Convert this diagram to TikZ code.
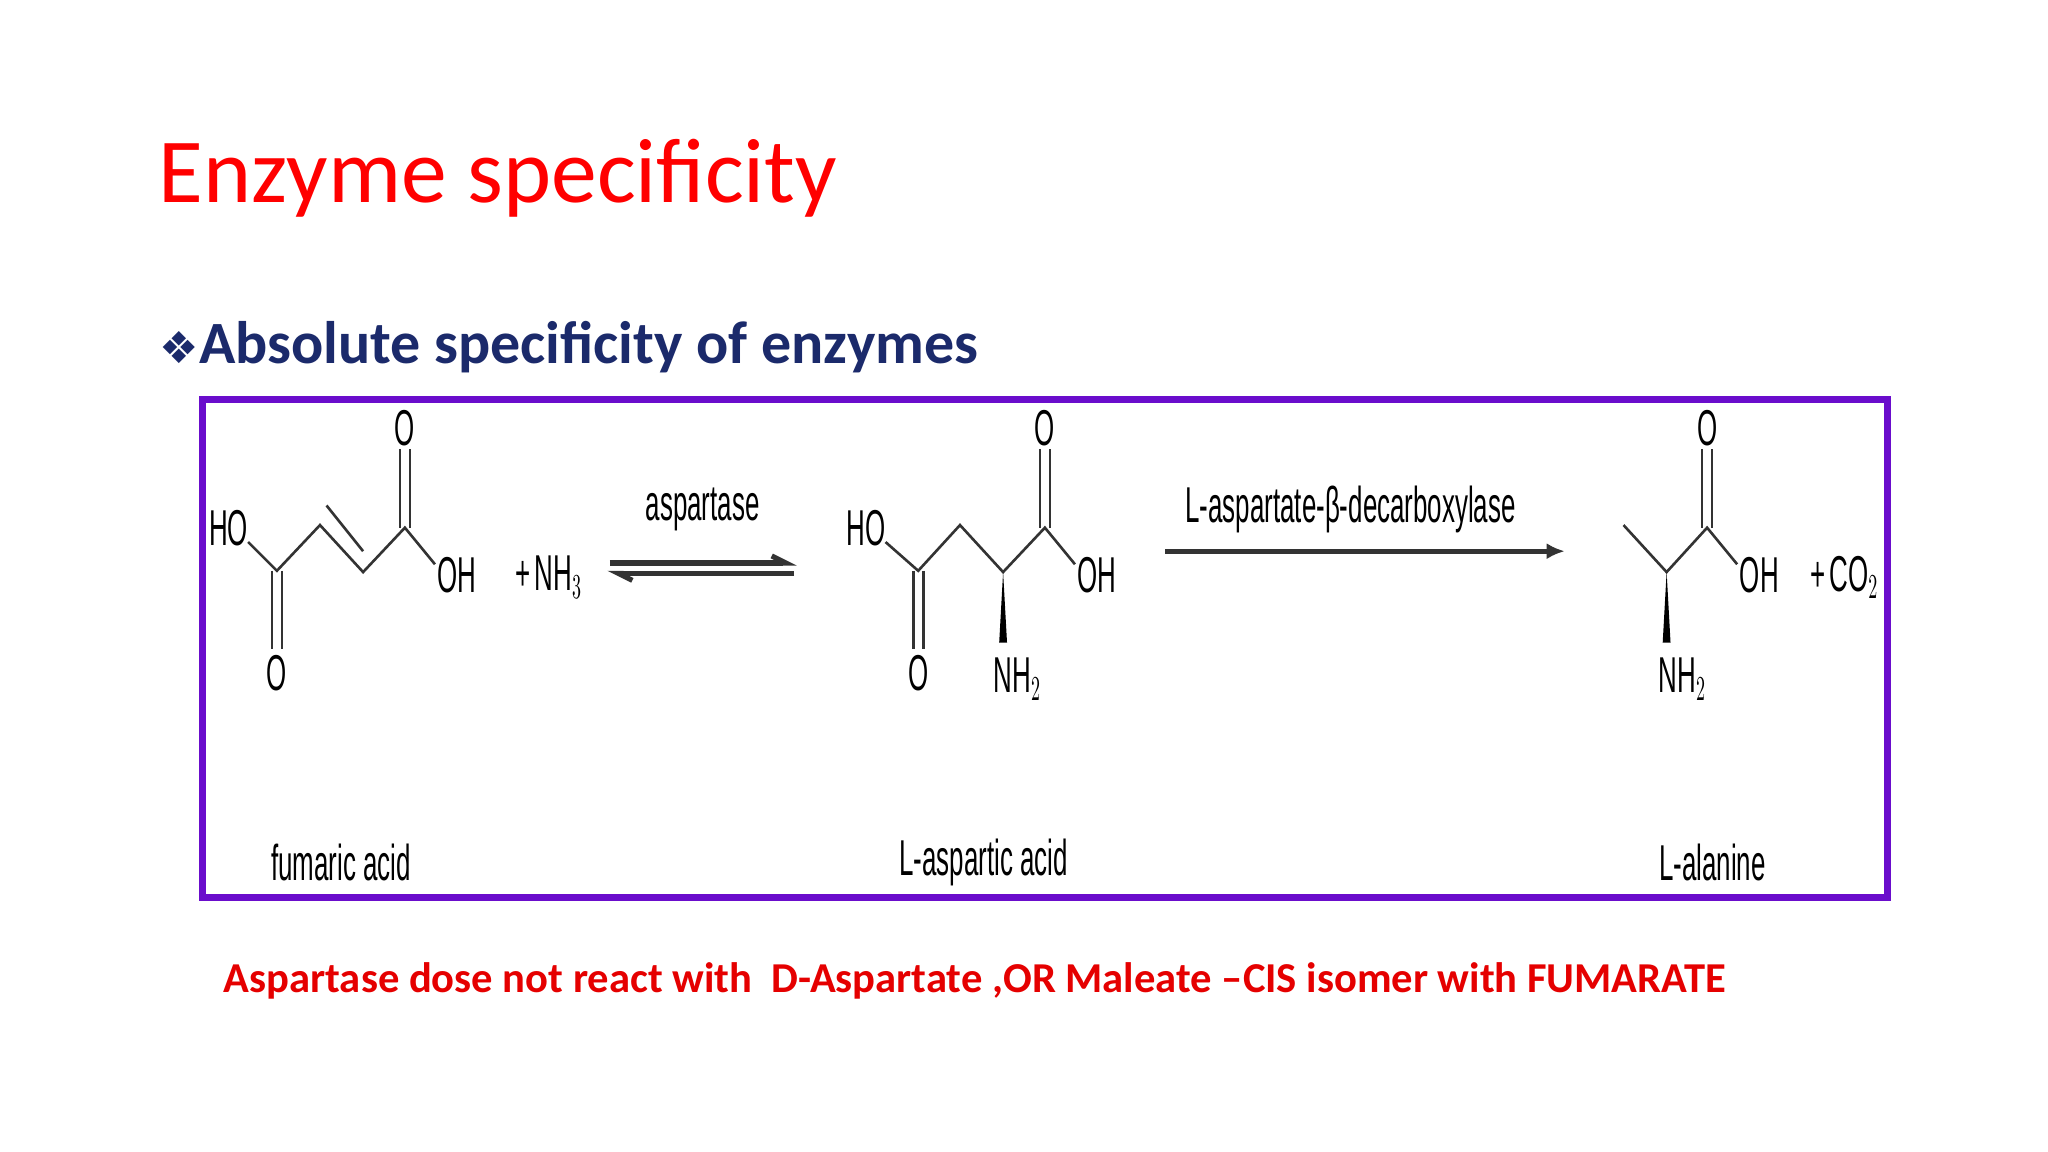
\documentclass[tikz,border=0pt]{standalone}
\usepackage{fontspec}
\setmainfont{Carlito}
\newfontfamily\chemfont{Liberation Sans}
\newfontfamily\symfont{DejaVu Sans}
\usetikzlibrary{arrows.meta}
\definecolor{boxpurple}{HTML}{6A0DCC}
\definecolor{navy}{HTML}{1B2A6B}
\newcommand{\chm}[1]{\scalebox{0.9}[1.75]{\chemfont\fontsize{14.4pt}{15pt}\selectfont #1}}
\tikzset{
  ch/.style={inner sep=0pt},
  bond/.style={line width=1.3pt,black!80},
  thickarrow/.style={line width=2.6pt,black!80},
}
\begin{document}
\begin{tikzpicture}[x=0.6531pt,y=-0.6531pt]
\useasboundingbox (0,0) rectangle (1568,882);
\fill[white] (0,0) rectangle (1568,882);
% title
\node[anchor=base west,inner sep=0pt,text=red,font=\fontsize{45.8pt}{55pt}\selectfont] (title) at (121,155) {Enzyme specificity};
\node[anchor=base west,inner sep=0pt,text=navy,font=\fontsize{30pt}{35pt}\selectfont\bfseries] (sub) at (122,278) {{\symfont\fontsize{22pt}{26pt}\selectfont ❖}Absolute specificity of enzymes};
% box
\draw[boxpurple,line width=3.6pt] (155,306) rectangle (1445,687);
% fumaric acid
\node[ch] (f1) at (175,404) {\chm{HO}};
\node[ch] (f2) at (310,328) {\chm{O}};
\node[ch] (f3) at (350,440) {\chm{OH}};
\node[ch] (f4) at (212,515) {\chm{O}};
\node[ch] (nh3) at (420,442) {\chm{+\,NH$_3$}};
\coordinate (fa) at (190,415); \coordinate (fb) at (212,437); \coordinate (fc) at (245,402);
\coordinate (fd) at (278,438); \coordinate (fe) at (310,404); \coordinate (ff) at (333,432);
\draw[bond] (fa)--(fb)--(fc)--(fd)--(fe)--(ff);
\draw[bond] (250,387)--(278,422);
\draw[bond] ([xshift=-2.5]fe)--++(0,-60) ([xshift=2.5]fe)--++(0,-60);
\draw[bond] ([xshift=-2.5]fb)--++(0,60) ([xshift=2.5]fb)--++(0,60);
% equilibrium
\coordinate (e1) at (467,431); \coordinate (e2) at (610,431);
\coordinate (e3) at (608,439); \coordinate (e4) at (465,439);
\draw[thickarrow,-{Straight Barb[left,length=7pt,width=7pt]}] (e1)--(e2);
\draw[thickarrow,-{Straight Barb[left,length=7pt,width=7pt]}] (e3)--(e4);
\node[ch] (asp) at (538,390) {\chm{aspartase}};
% L-aspartic acid
\node[ch] (a1) at (663,404) {\chm{HO}};
\node[ch] (a2) at (800,328) {\chm{O}};
\node[ch] (a3) at (840,440) {\chm{OH}};
\node[ch] (a4) at (703,515) {\chm{O}};
\node[ch] (a5) at (779,520) {\chm{NH$_2$}};
\coordinate (aa) at (678,415); \coordinate (ab) at (703,437); \coordinate (ac) at (735,402);
\coordinate (ad) at (768,438); \coordinate (ae) at (800,404); \coordinate (af) at (823,432);
\draw[bond] (aa)--(ab)--(ac)--(ad)--(ae)--(af);
\draw[bond] ([xshift=-2.5]ae)--++(0,-60) ([xshift=2.5]ae)--++(0,-60);
\draw[bond] ([xshift=-2.5]ab)--++(0,60) ([xshift=2.5]ab)--++(0,60);
\fill[black] (ad) -- (765,492) -- (771,492) -- cycle;
% decarboxylase arrow
\coordinate (d1) at (892,422); \coordinate (d2) at (1198,422);
\draw[thickarrow,-{Latex[length=9pt,width=8pt]}] (d1)--(d2);
\node[ch] (dec) at (1034,390) {\chm{L-aspartate-β-decarboxylase}};
% L-alanine
\node[ch] (l2) at (1307,328) {\chm{O}};
\node[ch] (l3) at (1347,440) {\chm{OH}};
\node[ch] (co2) at (1412,442) {\chm{+\,CO$_2$}};
\node[ch] (l5) at (1288,520) {\chm{NH$_2$}};
\coordinate (la) at (1243,402); \coordinate (lb) at (1276,438); \coordinate (lc) at (1307,404); \coordinate (ld) at (1330,432);
\draw[bond] (la)--(lb)--(lc)--(ld);
\draw[bond] ([xshift=-2.5]lc)--++(0,-60) ([xshift=2.5]lc)--++(0,-60);
\fill[black] (lb) -- (1273,492) -- (1279,492) -- cycle;
% names
\node[ch] (n1) at (261,660) {\chm{fumaric acid}};
\node[ch] (n2) at (753,660) {\chm{L-aspartic acid}};
\node[ch] (n3) at (1311,660) {\chm{L-alanine}};
% note
\node[anchor=base west,inner sep=0pt,text=red!90!black,font=\fontsize{21.3pt}{25pt}\selectfont\bfseries] (note) at (171,760) {Aspartase dose not react with\ \ D-Aspartate ,OR Maleate –CIS isomer with FUMARATE};
\end{tikzpicture}
\end{document}
